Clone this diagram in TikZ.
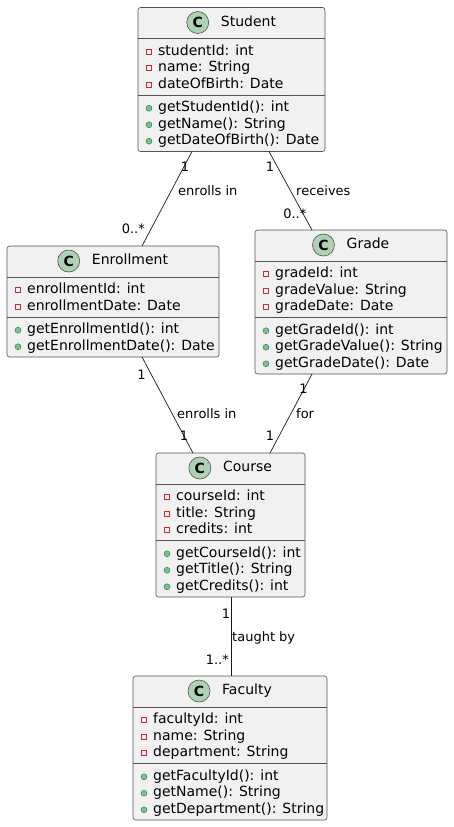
\documentclass[tikz,border=0pt]{standalone}
\usepackage{fontspec}
\setmainfont{DejaVu Sans}
\definecolor{boxfill}{HTML}{F1F1F1}
\definecolor{boxline}{HTML}{181818}
\definecolor{iconfill}{HTML}{ADD1B2}
\definecolor{privred}{HTML}{C82930}
\definecolor{pubfill}{HTML}{84BE84}
\definecolor{publine}{HTML}{038048}
\tikzset{
  classbox/.style={draw=boxline!75, fill=boxfill, line width=0.6pt, rounded corners=2.5pt, inner sep=0pt, outer sep=0pt},
  sepline/.style={draw=boxline!75, line width=0.6pt},
  entry/.style={anchor=west, inner sep=0pt, font=\fontsize{14}{16}\selectfont, text height=0.73em, text depth=0pt},
  titletext/.style={anchor=center, inner sep=0pt, font=\fontsize{14}{16}\selectfont, text height=0.73em, text depth=0pt},
  icon/.style={circle, draw=boxline!75, fill=iconfill, line width=0.6pt, minimum size=22pt, inner sep=0pt, font=\fontsize{14}{16}\selectfont\bfseries},
  privmark/.style={draw=privred, line width=0.7pt},
  pubmark/.style={draw=publine, fill=pubfill, line width=0.4pt},
  lbl/.style={inner sep=0pt, font=\fontsize{13}{15}\selectfont, text height=0.73em, text depth=0pt},
  conn/.style={draw=boxline, line width=0.7pt},
}
% #1 id, #2 left, #3 right, #4 top, #5 title, #6 n attrs, #7 attrs, #8 n methods, #9 methods
\newcommand{\klassbox}[9]{%
  \pgfmathsetmacro{\kSepA}{#4+31}%
  \pgfmathsetmacro{\kSepB}{\kSepA+#6*16.5+7}%
  \pgfmathsetmacro{\kBot}{\kSepB+#8*16.5+7}%
  \pgfmathsetmacro{\kWid}{#3-#2}%
  \pgfmathsetmacro{\kHei}{\kBot-#4}%
  \node[classbox, anchor=north west, minimum width=\kWid pt, minimum height=\kHei pt] (#1) at (#2,#4) {};
  \draw[sepline] (#2,\kSepA) -- (#3,\kSepA);
  \draw[sepline] (#2,\kSepB) -- (#3,\kSepB);
  \node[titletext] (#1-title) at ({(#2+#3)/2+17},{#4+15}) {#5};
  \node[icon] (#1-icon) at ([xshift=-23pt]#1-title.west) {C};
  \foreach \a [count=\i] in {#7} {
    \pgfmathsetmacro{\yy}{\kSepA+13.25+(\i-1)*16.5}
    \draw[privmark] ({#2+8.5},{\yy-2.5}) rectangle ({#2+13.5},{\yy+2.5});
    \node[entry] (#1-a\i) at ({#2+20},\yy) {\a};
  }
  \foreach \m [count=\i] in {#9} {
    \pgfmathsetmacro{\yy}{\kSepB+13.25+(\i-1)*16.5}
    \fill[pubmark] ({#2+11},\yy) circle (3pt);
    \node[entry] (#1-m\i) at ({#2+20},\yy) {\m};
  }
}
\begin{document}
\begin{tikzpicture}[x=1pt, y=-1pt]
\useasboundingbox (0,0) rectangle (453,827);

\klassbox{student}{138}{325}{7.5}{Student}{3}{{studentId: int},{name: String},{dateOfBirth: Date}}{3}{{getStudentId(): int},{getName(): String},{getDateOfBirth(): Date}}
\klassbox{enroll}{7}{219}{246}{Enrollment}{2}{{enrollmentId: int},{enrollmentDate: Date}}{2}{{getEnrollmentId(): int},{getEnrollmentDate(): Date}}
\klassbox{grade}{255}{447}{230}{Grade}{3}{{gradeId: int},{gradeValue: String},{gradeDate: Date}}{3}{{getGradeId(): int},{getGradeValue(): String},{getGradeDate(): Date}}
\klassbox{course}{156}{305}{453}{Course}{3}{{courseId: int},{title: String},{credits: int}}{3}{{getCourseId(): int},{getTitle(): String},{getCredits(): int}}
\klassbox{faculty}{133}{327}{676}{Faculty}{3}{{facultyId: int},{name: String},{department: String}}{3}{{getFacultyId(): int},{getName(): String},{getDepartment(): String}}

% connectors
\draw[conn] ([xshift=-39.5pt]student.south) -- ([xshift=29pt]enroll.north);
\draw[conn] ([xshift=37.5pt]student.south) -- ([xshift=-39pt]grade.north);
\draw[conn] ([xshift=29pt]enroll.south) -- ([xshift=-37.5pt]course.north);
\draw[conn] ([xshift=-39pt]grade.south) -- ([xshift=39.5pt]course.north);
\draw[conn] ([xshift=0.5pt]course.south) -- ([xshift=1pt]faculty.north);

% labels
\node[lbl] (l1) at (185,168) {1};
\node[lbl, anchor=west] (l2) at (178,192) {enrolls in};
\node[lbl, anchor=east] (l3) at (145,230) {0..*};
\node[lbl] (l4) at (270,168) {1};
\node[lbl, anchor=west] (l5) at (296,192) {receives};
\node[lbl, anchor=east] (l6) at (306.5,215) {0..*};
\node[lbl] (l7) at (141.5,376) {1};
\node[lbl, anchor=west] (l8) at (177,415) {enrolls in};
\node[lbl] (l9) at (184,437) {1};
\node[lbl] (l10) at (303.5,390) {1};
\node[lbl, anchor=west] (l11) at (296,415) {for};
\node[lbl] (l12) at (270,437) {1};
\node[lbl] (l13) at (226,615) {1};
\node[lbl, anchor=west] (l14) at (232,638) {taught by};
\node[lbl, anchor=east] (l15) at (229,661) {1..*};
\end{tikzpicture}
\end{document}
